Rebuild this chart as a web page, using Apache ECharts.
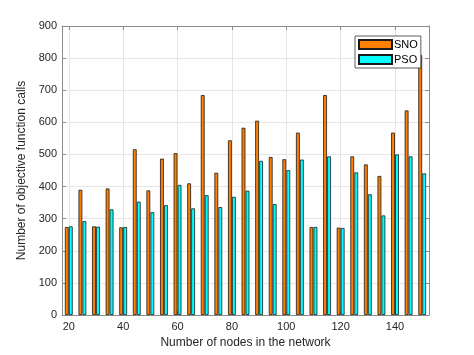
<!DOCTYPE html>
<html>
<head>
<meta charset="utf-8">
<script src="https://cdn.jsdelivr.net/npm/echarts@6/dist/echarts.min.js"></script>
<style>html,body{margin:0;padding:0;background:#fff}#c{width:474px;height:355px}</style>
</head>
<body>
<div id="c"></div>
<script>
const nodes = [20,25,30,35,40,45,50,55,60,65,70,75,80,85,90,95,100,105,110,115,120,125,130,135,140,145,150];
const sno = [274,390,276,394,273,516,388,487,504,410,685,443,544,583,605,492,485,568,274,685,272,494,469,433,568,637,810];
const pso = [276,292,275,329,274,353,320,342,405,332,373,336,368,387,480,345,451,484,274,494,271,444,376,310,500,494,441];
const xTicks = [20,40,60,80,100,120,140];
const yTicks = [0,100,200,300,400,500,600,700,800,900];

const font = 'Liberation Sans, Arial, Helvetica, sans-serif';
const axisCol = '#8c8c8c';
const textCol = '#262626';
const chart = echarts.init(document.getElementById('c'), null, {renderer:'canvas'});
const mk = arr => nodes.map((n,i)=>[n,arr[i]]);
const commonX = {
  type:'value', min:17.5, max:152.5, splitNumber:7,
  axisLine:{show:true, onZero:false, lineStyle:{color:axisCol, width:1}},
  axisTick:{show:true, inside:true, length:4, lineStyle:{color:axisCol}, customValues:xTicks},
};
const commonY = {
  type:'value', min:0, max:900, interval:100,
  axisLine:{show:true, lineStyle:{color:axisCol, width:1}},
  axisTick:{show:true, inside:true, length:4, lineStyle:{color:axisCol}},
};
chart.setOption({
  animation:false,
  backgroundColor:'#fff',
  grid:{left:62, right:45, top:26, bottom:40, containLabel:false},
  legend:{
    orient:'vertical', left:355, top:36, itemWidth:33, itemHeight:9, itemGap:4, icon:'rect',
    padding:[3,3,3,3], borderColor:'#333', borderWidth:0.8, backgroundColor:'#fff', borderRadius:0,
    textStyle:{fontFamily:font, fontSize:11, color:'#000', padding:[0,0,0,-3]},
    data:['SNO','PSO']
  },
  xAxis:[
    Object.assign({}, commonX, {
      position:'bottom',
      name:'Number of nodes in the network', nameLocation:'middle', nameGap:22,
      nameTextStyle:{fontFamily:font, fontSize:12, color:textCol},
      axisLabel:{fontFamily:font, fontSize:11, color:textCol, margin:6, customValues:xTicks},
      splitLine:{show:true, lineStyle:{color:'#e6e6e6', width:1}}
    }),
    Object.assign({}, commonX, {
      position:'top', axisLabel:{show:false}, splitLine:{show:false}
    })
  ],
  yAxis:[
    Object.assign({}, commonY, {
      position:'left',
      name:'Number of objective function calls', nameLocation:'middle', nameGap:31,
      nameTextStyle:{fontFamily:font, fontSize:12, color:textCol},
      axisLabel:{fontFamily:font, fontSize:11, color:textCol, margin:5},
      splitLine:{show:true, lineStyle:{color:'#e6e6e6', width:1}}
    }),
    Object.assign({}, commonY, {
      position:'right', axisLabel:{show:false}, splitLine:{show:false}
    })
  ],
  series:[
    {name:'SNO', type:'bar', xAxisIndex:0, yAxisIndex:0, data:mk(sno), barWidth:3.8, barGap:'5%',
     itemStyle:{color:'#ff8000', borderColor:'#1a1a1a', borderWidth:0.8}},
    {name:'PSO', type:'bar', xAxisIndex:0, yAxisIndex:0, data:mk(pso), barWidth:3.8, barGap:'5%',
     itemStyle:{color:'#00ffff', borderColor:'#1a1a1a', borderWidth:0.8}}
  ]
});
</script>
</body>
</html>
